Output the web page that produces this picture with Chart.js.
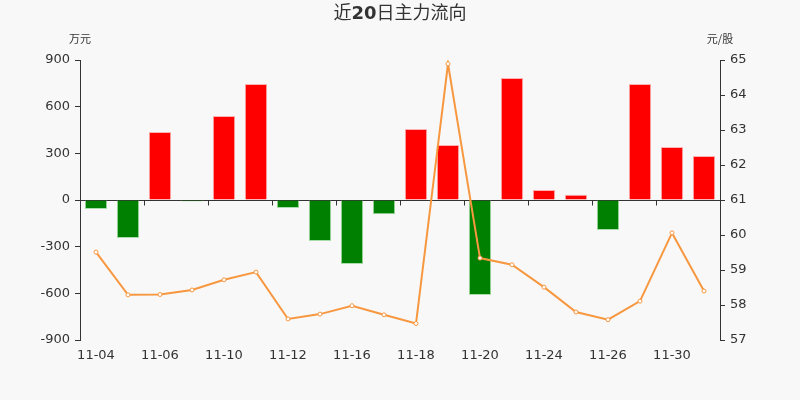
<!DOCTYPE html>
<html>
<head>
<meta charset="utf-8">
<script src="https://cdn.jsdelivr.net/npm/chart.js@4.4.0/dist/chart.umd.min.js"></script>
<style>
  html, body { margin: 0; padding: 0; background: #f8f8f8; }
  #wrap { width: 800px; height: 400px; }
</style>
</head>
<body>
<div id="wrap"><canvas id="flowChart" width="800" height="400"></canvas></div>
<script>
const dates = ['11-04', '11-05', '11-06', '11-09', '11-10', '11-11', '11-12', '11-13', '11-16', '11-17',
  '11-18', '11-19', '11-20', '11-23', '11-24', '11-25', '11-26', '11-27', '11-30', '12-01'];
const mainFlow = [-58, -244, 437, -10, 540, 746, -51, -264, -411, -92,
  456, 354, -611, 784, 64, 33, -193, 746, 341, 283];
const price = [59.51, 58.29, 58.3, 58.43, 58.72, 58.94, 57.6, 57.74, 57.98, 57.72,
  57.47, 64.89, 59.34, 59.15, 58.51, 57.8, 57.58, 58.11, 60.06, 58.4];
const leftTicks = [-900, -600, -300, 0, 300, 600, 900];
const rightTicks = [57, 58, 59, 60, 61, 62, 63, 64, 65];

const textColor = '#333';
const fontFamily = '"DejaVu Sans", "Noto Sans CJK SC", sans-serif';

// titre + noms des axes + ligne du zéro
const decorPlugin = {
  id: 'decor',
  beforeDatasetsDraw(chart) {
    const { ctx, chartArea, scales } = chart;
    const y0 = Math.round(scales.y.getPixelForValue(0)) + 0.5;
    ctx.save();
    ctx.strokeStyle = textColor;
    ctx.lineWidth = 1;
    ctx.beginPath();
    ctx.moveTo(chartArea.left, y0);
    ctx.lineTo(chartArea.right, y0);
    const step = (chartArea.right - chartArea.left) / dates.length;
    for (let k = 0; k <= dates.length; k += 2) {
      const x = Math.round(chartArea.left + k * step) + 0.5;
      ctx.moveTo(x, y0);
      ctx.lineTo(x, y0 + 5);
    }
    ctx.stroke();
    ctx.restore();
  },
  afterDraw(chart) {
    const { ctx, chartArea } = chart;
    ctx.save();
    ctx.fillStyle = textColor;
    ctx.textBaseline = 'middle';
    const parts = [['近', 'normal'], ['20', 'bold'], ['日主力流向', 'normal']];
    const fontOf = (w) => w + ' 18px "DejaVu Sans", "Noto Sans CJK SC", sans-serif';
    const widths = parts.map(([t, w]) => {
      ctx.font = fontOf(w);
      return ctx.measureText(t).width;
    });
    const total = widths.reduce((a, b) => a + b, 0);
    let x = 400 - total / 2;
    ctx.textAlign = 'left';
    parts.forEach(([t, w], i) => {
      ctx.font = fontOf(w);
      ctx.fillText(t, x, 14);
      x += widths[i];
    });
    ctx.font = '11px "Noto Sans CJK SC", sans-serif';
    ctx.textAlign = 'center';
    ctx.fillText('万元', chartArea.left, 39);
    ctx.fillText('元/股', chartArea.right, 39);
    ctx.restore();
  }
};

new Chart(document.getElementById('flowChart'), {
  data: {
    labels: dates,
    datasets: [
      {
        type: 'line',
        data: price,
        yAxisID: 'y1',
        order: 0,
        borderColor: '#f7973f',
        borderWidth: 2,
        tension: 0,
        pointRadius: 2,
        pointBorderWidth: 1,
        pointBackgroundColor: '#ffffff',
        pointBorderColor: '#f7973f',
      },
      {
        type: 'bar',
        data: mainFlow,
        yAxisID: 'y',
        order: 1,
        backgroundColor: mainFlow.map((v) => (v >= 0 ? '#ff0000' : '#008000')),
        borderColor: mainFlow.map((v) => (v >= 0 ? '#ffb3b3' : '#a8dca8')),
        borderWidth: 1,
        borderSkipped: 'start',
        categoryPercentage: 1,
        barPercentage: 0.7,
      },
    ],
  },
  options: {
    responsive: false,
    animation: false,
    layout: { padding: { top: 60, left: 0, right: 0, bottom: 0 } },
    plugins: {
      legend: { display: false },
      tooltip: { enabled: false },
    },
    scales: {
      x: {
        offset: true,
        grid: { display: false },
        border: { display: false },
        ticks: {
          autoSkip: false,
          maxRotation: 0,
          padding: 0,
          color: textColor,
          font: { size: 13, family: fontFamily },
          callback: (v, i) => (i % 2 === 0 ? dates[i] : ''),
        },
        afterFit: (s) => { s.height = 60; },
      },
      y: {
        position: 'left',
        min: -900,
        max: 900,
        afterBuildTicks: (s) => { s.ticks = leftTicks.map((v) => ({ value: v })); },
        grid: { drawOnChartArea: false, tickLength: 5, color: textColor },
        border: { color: textColor },
        ticks: { padding: 5, color: textColor, font: { size: 13, family: fontFamily } },
        afterFit: (s) => { s.width = 80; },
      },
      y1: {
        position: 'right',
        min: 57,
        max: 65,
        afterBuildTicks: (s) => { s.ticks = rightTicks.map((v) => ({ value: v })); },
        grid: { drawOnChartArea: false, tickLength: 5, color: textColor },
        border: { color: textColor },
        ticks: { padding: 5, color: textColor, font: { size: 13, family: fontFamily } },
        afterFit: (s) => { s.width = 80; },
      },
    },
  },
  plugins: [decorPlugin],
});
</script>
</body>
</html>
